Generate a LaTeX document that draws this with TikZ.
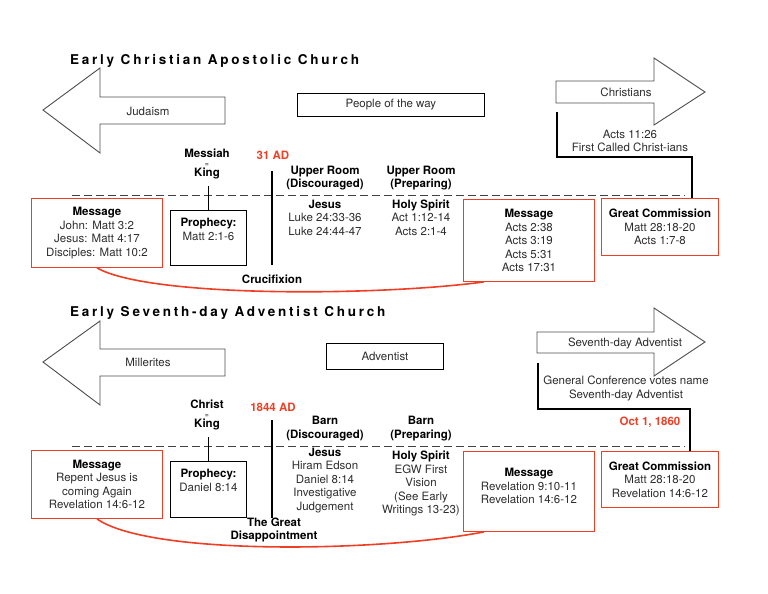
\documentclass[tikz,border=0pt]{standalone}
\usepackage{fontspec}
\setmainfont{TeX Gyre Heros}
\usetikzlibrary{positioning}
\definecolor{chartred}{RGB}{240,62,36}
\definecolor{bodygray}{RGB}{45,45,45}
\newcommand{\hdline}[1]{\textcolor{black}{\bfseries #1}}
\setlength{\lineskiplimit}{-20pt}

\begin{document}
\begin{tikzpicture}[x=1pt, y=-1pt,
  txt/.style={align=center, inner sep=0pt, text=bodygray, font=\fontsize{11.5}{13.5}\selectfont},
  hd/.style={txt, text=black, font=\fontsize{11.5}{13.5}\selectfont\bfseries},
  datelbl/.style={hd, text=chartred},
  churchtitle/.style={anchor=west, inner sep=0pt, font=\fontsize{13.5}{16}\selectfont\bfseries\addfontfeature{LetterSpace=20.5}},
  plainbox/.style={txt, draw=black, line width=0.9pt, anchor=north west},
  msgbox/.style={txt, draw=chartred, line width=0.9pt, anchor=north west},
  bigarrow/.style={draw=black!70, line width=0.9pt, line join=miter},
  link/.style={line width=1.7pt},
  bridge/.style={draw=chartred, line width=1.6pt},
  timeline/.style={draw=black!75, line width=0.9pt, dash pattern=on 8pt off 4pt}]
  \useasboundingbox (0,0) rectangle (768,594);

  % Early Christian Apostolic Church
  \node[churchtitle] (title1) at (70,61) {Early Christian Apostolic Church};
  \draw[bigarrow] (43,110) -- (100,68) -- (100,97) -- (225,97) -- (225,124) -- (100,124) -- (100,153) -- cycle;
  \node[txt] (judaism) at (148,111) {Judaism};
  \node[plainbox, minimum width=187pt, minimum height=23pt] (way) at (297,93) {People of the way};
  \draw[bigarrow] (556,81) -- (654,81) -- (654,58) -- (705,92) -- (654,125) -- (654,103) -- (556,103) -- cycle;
  \node[txt] (christians) at (626,92) {Christians};
  \node[txt] (acts) at (630,141) {Acts 11:26\\First Called Christ-ians};
  \draw[timeline] (72,195) -- (685,195);

  \node[hd] (messiah) at (207,163.5) {Messiah\\[-4pt]{\mdseries\scriptsize=}\\[-4pt]King};
  \node[plainbox, minimum width=76pt, minimum height=55pt] (proph1) at (170,210) {};
  \node[txt, anchor=north] (proph1txt) at ([yshift=-8pt]proph1.north) {\hdline{Prophecy:}\\Matt 2:1-6};
  \draw[link] (proph1.north |- 0,186) -- (proph1.north);

  \node[datelbl] (ad31) at (273,155) {31 AD};
  \draw[link] (272,171) -- (272,265);
  \node[hd] (cross) at (272,279) {Crucifixion};

  \node[hd] (room1) at (325,178) {Upper Room\\(Discouraged)};
  \node[txt] (jesus1) at (325,217.5) {\hdline{Jesus}\\Luke 24:33-36\\Luke 24:44-47};
  \node[hd] (room2) at (421,178) {Upper Room\\(Preparing)};
  \node[txt] (spirit1) at (421,217.5) {\hdline{Holy Spirit}\\Act 1:12-14\\Acts 2:1-4};

  \node[msgbox, minimum width=131pt, minimum height=69pt] (msg1) at (31,198)
    {\hdline{Message}\\John: Matt 3:2\\Jesus: Matt 4:17\\Disciples: Matt 10:2};
  \node[msgbox, minimum width=131pt, minimum height=82pt] (msg2) at (463,199)
    {\hdline{Message}\\Acts 2:38\\Acts 3:19\\Acts 5:31\\Acts 17:31};
  \node[msgbox, minimum width=117pt, minimum height=57pt] (gc1) at (601,198)
    {\hdline{Great Commission}\\Matt 28:18-20\\Acts 1:7-8};

  \coordinate (c1) at (557,112);
  \coordinate (c1b) at (692,157);
  \draw[link] (c1) |- (c1b) -- (c1b |- gc1.north);
  \draw[bridge] (msg1.south) .. controls (150,298) and (380,296) .. ([xshift=21pt]msg2.south west);

  % Early Seventh-day Adventist Church
  \node[churchtitle] (title2) at (70,313) {Early Seventh-day Adventist Church};
  \draw[bigarrow] (43,362) -- (100,321) -- (100,349) -- (225,349) -- (225,376) -- (100,376) -- (100,405) -- cycle;
  \node[txt] (millerites) at (148,362) {Millerites};
  \node[plainbox, minimum width=117pt, minimum height=26pt] (adventist) at (326,343) {Adventist};
  \draw[bigarrow] (537,332) -- (654,332) -- (654,308) -- (705,342) -- (654,376) -- (654,353) -- (537,353) -- cycle;
  \node[txt] (sda) at (625,343) {Seventh-day Adventist};
  \node[txt] (gcvote) at (626,388.5) {General Conference votes name\\Seventh-day Adventist};
  \node[datelbl] (oct) at (650,422) {Oct 1, 1860};
  \draw[timeline] (72,446) -- (685,446);

  \node[hd] (christ) at (207,414.5) {Christ\\[-4pt]{\mdseries\scriptsize=}\\[-4pt]King};
  \node[plainbox, minimum width=76pt, minimum height=56pt] (proph2) at (170,461) {};
  \node[txt, anchor=north] (proph2txt) at ([yshift=-8pt]proph2.north) {\hdline{Prophecy:}\\Daniel 8:14};
  \draw[link] (proph2.north |- 0,437) -- (proph2.north);

  \node[datelbl] (ad1844) at (273,407) {1844 AD};
  \draw[link] (272,420) -- (272,518);
  \node[hd] (disappoint) at (274,530) {The Great\\Disappointment};

  \node[hd] (barn1) at (325,428.5) {Barn\\(Discouraged)};
  \node[txt] (jesus2) at (325,480.5) {\hdline{Jesus}\\Hiram Edson\\Daniel 8:14\\Investigative\\Judgement};
  \node[hd] (barn2) at (421,428.5) {Barn\\(Preparing)};
  \node[txt] (spirit2) at (421,483.5) {\hdline{Holy Spirit}\\EGW First\\Vision\\(See Early\\Writings 13-23)};

  \node[msgbox, minimum width=131pt, minimum height=68pt] (msg3) at (31,450)
    {\hdline{Message}\\Repent Jesus is\\coming Again\\Revelation 14:6-12};
  \node[msgbox, minimum width=131pt, minimum height=80pt] (msg4) at (463,451)
    {\hdline{Message}\\Revelation 9:10-11\\Revelation 14:6-12\\[-2.5pt]\mbox{}};
  \node[msgbox, minimum width=117pt, minimum height=56pt] (gc2) at (601,451)
    {\hdline{Great Commission}\\Matt 28:18-20\\Revelation 14:6-12};

  \coordinate (c2) at (538,363);
  \coordinate (c2b) at (690,409);
  \draw[link] (c2) |- (c2b) -- (c2b |- gc2.north);
  \draw[bridge] (msg3.south) .. controls (150,556) and (380,552) .. ([xshift=21pt]msg4.south west);
\end{tikzpicture}
\end{document}
